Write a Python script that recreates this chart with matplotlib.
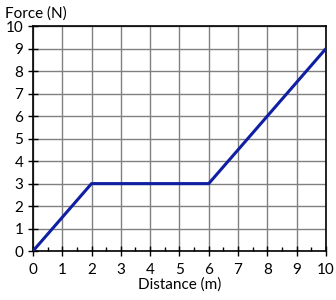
import matplotlib.pyplot as plt
from matplotlib.ticker import MultipleLocator

plt.rcParams['font.family'] = ['Lato', 'DejaVu Sans']

distance = [0, 2, 6, 10]
force = [0, 3, 3, 9]

fig = plt.figure(figsize=(3.36, 3.0), dpi=100)
ax = fig.add_axes([0.098, 0.163, 0.872, 0.750])

ax.plot(distance, force, color='#0f1fa3', linewidth=2.2, solid_capstyle='butt', zorder=3)

ax.set_xlim(0, 10)
ax.set_ylim(0, 10)
ax.set_xticks(range(0, 11))
ax.set_yticks(range(0, 11))
ax.xaxis.set_minor_locator(MultipleLocator(0.5))
ax.grid(True, which='major', color='#808080', linewidth=1.0)
ax.tick_params(axis='both', which='major', direction='inout', length=7, width=1,
               labelsize=11, colors='black')
ax.tick_params(axis='x', which='minor', direction='in', length=3, width=1)
ax.tick_params(axis='x', pad=5)
for s in ax.spines.values():
    s.set_linewidth(1.2)
    s.set_color('black')

fig.text(0.015, 0.955, 'Force (N)', fontsize=11, ha='left', va='center')
ax.set_xlabel('Distance (m)', fontsize=11, labelpad=0)

fig.savefig('out.png', dpi=100)
